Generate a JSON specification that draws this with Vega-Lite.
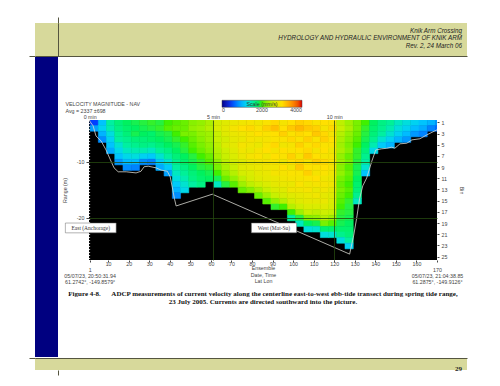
{"$schema":"https://vega.github.io/schema/vega-lite/v6.json","background":"white","padding":{"left":28,"top":16,"right":34,"bottom":16},"bounds":"full","spacing":0,"vconcat":[
{"width":432,"height":33,"view":{"fill":"#d7d99b","stroke":null},"data":{"values":[{"a":0}]},"title":{"text":["Knik Arm Crossing","HYDROLOGY AND HYDRAULIC ENVIRONMENT OF KNIK ARM","Rev. 2, 24 March 06"],"orient":"bottom","anchor":"end","frame":"group","align":"right","offset":-29,"dx":-5,"font":"Liberation Sans","fontStyle":"italic","fontWeight":"normal","fontSize":6.3,"lineHeight":7.5,"color":"#222222"},"mark":{"type":"point","opacity":0,"size":1},"encoding":{"x":{"field":"a","type":"quantitative","scale":{"domain":[0,432]},"axis":{"orient":"top","values":[23],"grid":true,"gridColor":"#55553f","tickColor":"#55553f","tickSize":6,"labels":false,"domain":false,"title":null}},"y":{"field":"a","type":"quantitative","scale":{"domain":[0,33]},"axis":{"orient":"left","values":[0],"grid":true,"gridColor":"#55553f","tickColor":"#55553f","tickSize":6,"labels":false,"domain":false,"title":null}}}},
{"bounds":"flush","spacing":31,"hconcat":[
{"width":23,"height":300,"view":{"fill":"#000080","stroke":null},"data":{"values":[{"a":0}]},"mark":{"type":"point","opacity":0,"size":1},"encoding":{}},
{"bounds":"flush","spacing":0,"vconcat":[
{"width":348,"height":63,"view":{"stroke":null},"data":{"values":[{"a":0}]},"mark":{"type":"point","opacity":0,"size":1},"encoding":{}},
{"width":348,"height":140,"view":{"fill":"#000000","stroke":null},
"title":{"text":["Figure 4-8.\u00a0\u00a0\u00a0\u00a0\u00a0\u00a0ADCP measurements of current velocity along the centerline east-to-west ebb-tide transect during spring tide range,","23 July 2005. Currents are directed southward into the picture."],"orient":"bottom","anchor":"middle","frame":"group","offset":5,"font":"Liberation Serif","fontWeight":"bold","fontSize":7,"lineHeight":8,"color":"#111111"},
"resolve":{"scale":{"x":"independent","y":"independent"},"axis":{"x":"independent","y":"independent"}},
"layer":[
{"data":{"values":[
{"e":1,"b":1,"v":500},{"e":1,"b":2,"v":900},
{"e":5,"b":1,"v":1100},{"e":5,"b":2,"v":1200},{"e":5,"b":3,"v":1000},{"e":5,"b":4,"v":800},
{"e":9,"b":1,"v":1500},{"e":9,"b":2,"v":1450},{"e":9,"b":3,"v":1300},{"e":9,"b":4,"v":1200},{"e":9,"b":5,"v":1100},{"e":9,"b":6,"v":950},
{"e":13,"b":1,"v":1700},{"e":13,"b":2,"v":1650},{"e":13,"b":3,"v":1550},{"e":13,"b":4,"v":1500},{"e":13,"b":5,"v":1350},{"e":13,"b":6,"v":1250},{"e":13,"b":7,"v":1100},{"e":13,"b":8,"v":850},
{"e":17,"b":1,"v":1800},{"e":17,"b":2,"v":1750},{"e":17,"b":3,"v":1700},{"e":17,"b":4,"v":1600},{"e":17,"b":5,"v":1500},{"e":17,"b":6,"v":1400},{"e":17,"b":7,"v":1250},{"e":17,"b":8,"v":1050},{"e":17,"b":9,"v":800},
{"e":21,"b":1,"v":1850},{"e":21,"b":2,"v":1800},{"e":21,"b":3,"v":1850},{"e":21,"b":4,"v":1700},{"e":21,"b":5,"v":1600},{"e":21,"b":6,"v":1450},{"e":21,"b":7,"v":1300},{"e":21,"b":8,"v":1050},{"e":21,"b":9,"v":750},
{"e":25,"b":1,"v":1900},{"e":25,"b":2,"v":1850},{"e":25,"b":3,"v":1800},{"e":25,"b":4,"v":1700},{"e":25,"b":5,"v":1650},{"e":25,"b":6,"v":1450},{"e":25,"b":7,"v":1200},{"e":25,"b":8,"v":800},
{"e":29,"b":1,"v":1950},{"e":29,"b":2,"v":1900},{"e":29,"b":3,"v":1750},{"e":29,"b":4,"v":1750},{"e":29,"b":5,"v":1600},{"e":29,"b":6,"v":1400},{"e":29,"b":7,"v":1150},{"e":29,"b":8,"v":750},
{"e":33,"b":1,"v":1900},{"e":33,"b":2,"v":1950},{"e":33,"b":3,"v":1850},{"e":33,"b":4,"v":1800},{"e":33,"b":5,"v":1700},{"e":33,"b":6,"v":1550},{"e":33,"b":7,"v":1350},{"e":33,"b":8,"v":1150},{"e":33,"b":9,"v":950},
{"e":37,"b":1,"v":2000},{"e":37,"b":2,"v":2050},{"e":37,"b":3,"v":1900},{"e":37,"b":4,"v":1850},{"e":37,"b":5,"v":1800},{"e":37,"b":6,"v":1650},{"e":37,"b":7,"v":1500},{"e":37,"b":8,"v":1350},{"e":37,"b":9,"v":1150},{"e":37,"b":10,"v":900},
{"e":41,"b":1,"v":2050},{"e":41,"b":2,"v":2100},{"e":41,"b":3,"v":2000},{"e":41,"b":4,"v":1950},{"e":41,"b":5,"v":1850},{"e":41,"b":6,"v":1800},{"e":41,"b":7,"v":1700},{"e":41,"b":8,"v":1600},{"e":41,"b":9,"v":1500},{"e":41,"b":10,"v":1400},{"e":41,"b":11,"v":1300},{"e":41,"b":12,"v":1150},{"e":41,"b":13,"v":1000},{"e":41,"b":14,"v":800},
{"e":45,"b":1,"v":2100},{"e":45,"b":2,"v":2100},{"e":45,"b":3,"v":2150},{"e":45,"b":4,"v":2000},{"e":45,"b":5,"v":1950},{"e":45,"b":6,"v":1900},{"e":45,"b":7,"v":1800},{"e":45,"b":8,"v":1750},{"e":45,"b":9,"v":1650},{"e":45,"b":10,"v":1550},{"e":45,"b":11,"v":1450},{"e":45,"b":12,"v":1350},{"e":45,"b":13,"v":1250},
{"e":49,"b":1,"v":2200},{"e":49,"b":2,"v":2250},{"e":49,"b":3,"v":2150},{"e":49,"b":4,"v":2100},{"e":49,"b":5,"v":2050},{"e":49,"b":6,"v":2000},{"e":49,"b":7,"v":1900},{"e":49,"b":8,"v":1850},{"e":49,"b":9,"v":1800},{"e":49,"b":10,"v":1700},{"e":49,"b":11,"v":1650},{"e":49,"b":12,"v":1500},
{"e":53,"b":1,"v":2250},{"e":53,"b":2,"v":2300},{"e":53,"b":3,"v":2250},{"e":53,"b":4,"v":2200},{"e":53,"b":5,"v":2150},{"e":53,"b":6,"v":2100},{"e":53,"b":7,"v":2000},{"e":53,"b":8,"v":1950},{"e":53,"b":9,"v":1900},{"e":53,"b":10,"v":1800},{"e":53,"b":11,"v":1750},{"e":53,"b":12,"v":1650},
{"e":57,"b":1,"v":2350},{"e":57,"b":2,"v":2400},{"e":57,"b":3,"v":2300},{"e":57,"b":4,"v":2300},{"e":57,"b":5,"v":2250},{"e":57,"b":6,"v":2200},{"e":57,"b":7,"v":2100},{"e":57,"b":8,"v":2050},{"e":57,"b":9,"v":1950},{"e":57,"b":10,"v":1850},{"e":57,"b":11,"v":1800},
{"e":61,"b":1,"v":2600},{"e":61,"b":2,"v":2650},{"e":61,"b":3,"v":2500},{"e":61,"b":4,"v":2500},{"e":61,"b":5,"v":2450},{"e":61,"b":6,"v":2400},{"e":61,"b":7,"v":2350},{"e":61,"b":8,"v":2250},{"e":61,"b":9,"v":2150},{"e":61,"b":10,"v":2000},{"e":61,"b":11,"v":1850},{"e":61,"b":12,"v":1400},
{"e":65,"b":1,"v":2700},{"e":65,"b":2,"v":2750},{"e":65,"b":3,"v":2700},{"e":65,"b":4,"v":2600},{"e":65,"b":5,"v":2650},{"e":65,"b":6,"v":2550},{"e":65,"b":7,"v":2500},{"e":65,"b":8,"v":2450},{"e":65,"b":9,"v":2350},{"e":65,"b":10,"v":2250},{"e":65,"b":11,"v":2100},{"e":65,"b":12,"v":1900},
{"e":69,"b":1,"v":2800},{"e":69,"b":2,"v":2900},{"e":69,"b":3,"v":2800},{"e":69,"b":4,"v":2750},{"e":69,"b":5,"v":2750},{"e":69,"b":6,"v":2700},{"e":69,"b":7,"v":2650},{"e":69,"b":8,"v":2600},{"e":69,"b":9,"v":2500},{"e":69,"b":10,"v":2400},{"e":69,"b":11,"v":2250},{"e":69,"b":12,"v":2050},
{"e":73,"b":1,"v":2850},{"e":73,"b":2,"v":3000},{"e":73,"b":3,"v":2850},{"e":73,"b":4,"v":2800},{"e":73,"b":5,"v":2900},{"e":73,"b":6,"v":2850},{"e":73,"b":7,"v":2800},{"e":73,"b":8,"v":2700},{"e":73,"b":9,"v":2700},{"e":73,"b":10,"v":2600},{"e":73,"b":11,"v":2450},{"e":73,"b":12,"v":2300},{"e":73,"b":13,"v":2100},
{"e":77,"b":1,"v":2900},{"e":77,"b":2,"v":3050},{"e":77,"b":3,"v":2900},{"e":77,"b":4,"v":2900},{"e":77,"b":5,"v":2850},{"e":77,"b":6,"v":2800},{"e":77,"b":7,"v":2900},{"e":77,"b":8,"v":2800},{"e":77,"b":9,"v":2750},{"e":77,"b":10,"v":2650},{"e":77,"b":11,"v":2600},{"e":77,"b":12,"v":2450},{"e":77,"b":13,"v":2200},
{"e":81,"b":1,"v":2850},{"e":81,"b":2,"v":2950},{"e":81,"b":3,"v":3000},{"e":81,"b":4,"v":2850},{"e":81,"b":5,"v":2800},{"e":81,"b":6,"v":2900},{"e":81,"b":7,"v":2950},{"e":81,"b":8,"v":2850},{"e":81,"b":9,"v":2800},{"e":81,"b":10,"v":2750},{"e":81,"b":11,"v":2700},{"e":81,"b":12,"v":2550},{"e":81,"b":13,"v":2350},{"e":81,"b":14,"v":2100},
{"e":85,"b":1,"v":2950},{"e":85,"b":2,"v":3100},{"e":85,"b":3,"v":2950},{"e":85,"b":4,"v":2900},{"e":85,"b":5,"v":2950},{"e":85,"b":6,"v":3000},{"e":85,"b":7,"v":2850},{"e":85,"b":8,"v":2900},{"e":85,"b":9,"v":2850},{"e":85,"b":10,"v":2800},{"e":85,"b":11,"v":2750},{"e":85,"b":12,"v":2650},{"e":85,"b":13,"v":2500},{"e":85,"b":14,"v":2300},{"e":85,"b":15,"v":2050},
{"e":89,"b":1,"v":3050},{"e":89,"b":2,"v":3200},{"e":89,"b":3,"v":3000},{"e":89,"b":4,"v":2950},{"e":89,"b":5,"v":3050},{"e":89,"b":6,"v":2900},{"e":89,"b":7,"v":3000},{"e":89,"b":8,"v":2950},{"e":89,"b":9,"v":2850},{"e":89,"b":10,"v":2900},{"e":89,"b":11,"v":2800},{"e":89,"b":12,"v":2750},{"e":89,"b":13,"v":2650},{"e":89,"b":14,"v":2500},{"e":89,"b":15,"v":2250},{"e":89,"b":16,"v":1950},
{"e":93,"b":1,"v":2900},{"e":93,"b":2,"v":3000},{"e":93,"b":3,"v":3100},{"e":93,"b":4,"v":2950},{"e":93,"b":5,"v":2850},{"e":93,"b":6,"v":3000},{"e":93,"b":7,"v":2950},{"e":93,"b":8,"v":2850},{"e":93,"b":9,"v":3000},{"e":93,"b":10,"v":2900},{"e":93,"b":11,"v":2850},{"e":93,"b":12,"v":2800},{"e":93,"b":13,"v":2700},{"e":93,"b":14,"v":2600},{"e":93,"b":15,"v":2400},{"e":93,"b":16,"v":2000},
{"e":97,"b":1,"v":3000},{"e":97,"b":2,"v":3150},{"e":97,"b":3,"v":2950},{"e":97,"b":4,"v":3050},{"e":97,"b":5,"v":2900},{"e":97,"b":6,"v":2950},{"e":97,"b":7,"v":3100},{"e":97,"b":8,"v":3000},{"e":97,"b":9,"v":2850},{"e":97,"b":10,"v":2950},{"e":97,"b":11,"v":2900},{"e":97,"b":12,"v":2800},{"e":97,"b":13,"v":2850},{"e":97,"b":14,"v":2700},{"e":97,"b":15,"v":2600},{"e":97,"b":16,"v":2400},{"e":97,"b":17,"v":2000},{"e":97,"b":18,"v":1500},
{"e":101,"b":1,"v":3100},{"e":101,"b":2,"v":3250},{"e":101,"b":3,"v":3050},{"e":101,"b":4,"v":2950},{"e":101,"b":5,"v":3100},{"e":101,"b":6,"v":3000},{"e":101,"b":7,"v":2900},{"e":101,"b":8,"v":3050},{"e":101,"b":9,"v":3150},{"e":101,"b":10,"v":2950},{"e":101,"b":11,"v":2900},{"e":101,"b":12,"v":2950},{"e":101,"b":13,"v":2850},{"e":101,"b":14,"v":2750},{"e":101,"b":15,"v":2700},{"e":101,"b":16,"v":2550},{"e":101,"b":17,"v":2300},{"e":101,"b":18,"v":1900},{"e":101,"b":19,"v":1400},
{"e":105,"b":1,"v":3050},{"e":105,"b":2,"v":3150},{"e":105,"b":3,"v":3000},{"e":105,"b":4,"v":3100},{"e":105,"b":5,"v":2950},{"e":105,"b":6,"v":3050},{"e":105,"b":7,"v":3150},{"e":105,"b":8,"v":2950},{"e":105,"b":9,"v":3000},{"e":105,"b":10,"v":3100},{"e":105,"b":11,"v":2950},{"e":105,"b":12,"v":2850},{"e":105,"b":13,"v":2900},{"e":105,"b":14,"v":2800},{"e":105,"b":15,"v":2750},{"e":105,"b":16,"v":2650},{"e":105,"b":17,"v":2500},{"e":105,"b":18,"v":2200},{"e":105,"b":19,"v":1800},{"e":105,"b":20,"v":1300},
{"e":109,"b":1,"v":2950},{"e":109,"b":2,"v":3100},{"e":109,"b":3,"v":3150},{"e":109,"b":4,"v":2950},{"e":109,"b":5,"v":3050},{"e":109,"b":6,"v":2900},{"e":109,"b":7,"v":3000},{"e":109,"b":8,"v":3100},{"e":109,"b":9,"v":2950},{"e":109,"b":10,"v":2900},{"e":109,"b":11,"v":3000},{"e":109,"b":12,"v":2900},{"e":109,"b":13,"v":2800},{"e":109,"b":14,"v":2850},{"e":109,"b":15,"v":2750},{"e":109,"b":16,"v":2650},{"e":109,"b":17,"v":2450},{"e":109,"b":18,"v":2250},{"e":109,"b":19,"v":1850},{"e":109,"b":20,"v":1350},
{"e":113,"b":1,"v":3000},{"e":113,"b":2,"v":2900},{"e":113,"b":3,"v":3050},{"e":113,"b":4,"v":3100},{"e":113,"b":5,"v":2950},{"e":113,"b":6,"v":3000},{"e":113,"b":7,"v":2900},{"e":113,"b":8,"v":3050},{"e":113,"b":9,"v":3000},{"e":113,"b":10,"v":2950},{"e":113,"b":11,"v":2850},{"e":113,"b":12,"v":2900},{"e":113,"b":13,"v":2850},{"e":113,"b":14,"v":2750},{"e":113,"b":15,"v":2800},{"e":113,"b":16,"v":2700},{"e":113,"b":17,"v":2550},{"e":113,"b":18,"v":2400},{"e":113,"b":19,"v":2150},{"e":113,"b":20,"v":1750},{"e":113,"b":21,"v":1300},
{"e":117,"b":1,"v":2950},{"e":117,"b":2,"v":3050},{"e":117,"b":3,"v":2900},{"e":117,"b":4,"v":3000},{"e":117,"b":5,"v":2950},{"e":117,"b":6,"v":2850},{"e":117,"b":7,"v":2900},{"e":117,"b":8,"v":2950},{"e":117,"b":9,"v":2900},{"e":117,"b":10,"v":2850},{"e":117,"b":11,"v":2800},{"e":117,"b":12,"v":2850},{"e":117,"b":13,"v":2750},{"e":117,"b":14,"v":2700},{"e":117,"b":15,"v":2650},{"e":117,"b":16,"v":2600},{"e":117,"b":17,"v":2500},{"e":117,"b":18,"v":2300},{"e":117,"b":19,"v":2050},{"e":117,"b":20,"v":1750},{"e":117,"b":21,"v":1350},
{"e":121,"b":1,"v":2450},{"e":121,"b":2,"v":2500},{"e":121,"b":3,"v":2400},{"e":121,"b":4,"v":2350},{"e":121,"b":5,"v":2300},{"e":121,"b":6,"v":2350},{"e":121,"b":7,"v":2250},{"e":121,"b":8,"v":2300},{"e":121,"b":9,"v":2200},{"e":121,"b":10,"v":2250},{"e":121,"b":11,"v":2150},{"e":121,"b":12,"v":2100},{"e":121,"b":13,"v":2150},{"e":121,"b":14,"v":2100},{"e":121,"b":15,"v":2050},{"e":121,"b":16,"v":2000},{"e":121,"b":17,"v":1950},{"e":121,"b":18,"v":1900},{"e":121,"b":19,"v":1850},{"e":121,"b":20,"v":1750},{"e":121,"b":21,"v":1600},{"e":121,"b":22,"v":1300},
{"e":125,"b":1,"v":2300},{"e":125,"b":2,"v":2350},{"e":125,"b":3,"v":2250},{"e":125,"b":4,"v":2200},{"e":125,"b":5,"v":2150},{"e":125,"b":6,"v":2200},{"e":125,"b":7,"v":2100},{"e":125,"b":8,"v":2150},{"e":125,"b":9,"v":2050},{"e":125,"b":10,"v":2100},{"e":125,"b":11,"v":2050},{"e":125,"b":12,"v":2000},{"e":125,"b":13,"v":2050},{"e":125,"b":14,"v":2000},{"e":125,"b":15,"v":1950},{"e":125,"b":16,"v":1900},{"e":125,"b":17,"v":1900},{"e":125,"b":18,"v":1850},{"e":125,"b":19,"v":1800},{"e":125,"b":20,"v":1750},{"e":125,"b":21,"v":1700},{"e":125,"b":22,"v":1500},{"e":125,"b":23,"v":1200},
{"e":129,"b":1,"v":2150},{"e":129,"b":2,"v":2150},{"e":129,"b":3,"v":2100},{"e":129,"b":4,"v":2050},{"e":129,"b":5,"v":2000},{"e":129,"b":6,"v":1950},{"e":129,"b":7,"v":1950},{"e":129,"b":8,"v":1900},{"e":129,"b":9,"v":1850},{"e":129,"b":10,"v":1850},{"e":129,"b":11,"v":1800},{"e":129,"b":12,"v":1750},{"e":129,"b":13,"v":1700},{"e":129,"b":14,"v":1600},{"e":129,"b":15,"v":1400},
{"e":133,"b":1,"v":2000},{"e":133,"b":2,"v":1950},{"e":133,"b":3,"v":1900},{"e":133,"b":4,"v":1850},{"e":133,"b":5,"v":1800},{"e":133,"b":6,"v":1700},{"e":133,"b":7,"v":1600},{"e":133,"b":8,"v":1500},{"e":133,"b":9,"v":1350},{"e":133,"b":10,"v":1100},
{"e":137,"b":1,"v":1800},{"e":137,"b":2,"v":1750},{"e":137,"b":3,"v":1700},{"e":137,"b":4,"v":1600},{"e":137,"b":5,"v":1450},{"e":137,"b":6,"v":1250},
{"e":141,"b":1,"v":1650},{"e":141,"b":2,"v":1600},{"e":141,"b":3,"v":1500},{"e":141,"b":4,"v":1350},{"e":141,"b":5,"v":1150},
{"e":145,"b":1,"v":1550},{"e":145,"b":2,"v":1450},{"e":145,"b":3,"v":1350},{"e":145,"b":4,"v":1200},{"e":145,"b":5,"v":1000},
{"e":149,"b":1,"v":1400},{"e":149,"b":2,"v":1300},{"e":149,"b":3,"v":1200},{"e":149,"b":4,"v":1000},
{"e":153,"b":1,"v":1300},{"e":153,"b":2,"v":1200},{"e":153,"b":3,"v":1050},{"e":153,"b":4,"v":850},
{"e":157,"b":1,"v":1200},{"e":157,"b":2,"v":1050},{"e":157,"b":3,"v":850},
{"e":161,"b":1,"v":1100},{"e":161,"b":2,"v":950},{"e":161,"b":3,"v":750},
{"e":165,"b":1,"v":1000},{"e":165,"b":2,"v":750},
{"e":169,"b":1,"v":850},{"e":169,"b":2,"v":650}
]},"mark":{"type":"rect","clip":true,"strokeWidth":0.6},"encoding":{
"x":{"field":"e","type":"quantitative","bin":{"step":4,"extent":[1,173],"nice":false},"scale":{"domain":[0.7,170],"nice":false,"zero":false},"axis":{"orient":"bottom","values":[1,10,20,30,40,50,60,70,80,90,100,110,120,130,140,150,160,170],"format":"d","labelExpr":"datum.value==1?['','1','05/07/23, 20:50:31.94','61.2742°, -149.8579°']:datum.value==170?['','170','05/07/23, 21:04:38.85','61.2875°, -149.9126°']:datum.label","labelOverlap":false,"labelBound":false,"labelFlush":false,"labelFont":"Liberation Sans","labelFontSize":5.3,"labelColor":"#444444","labelLineHeight":6.2,"labelPadding":-1,"tickSize":2,"tickColor":"#444444","domain":false,"grid":false,"title":["Ensemble","Date, Time","Lat Lon"],"titleFont":"Liberation Sans","titleFontSize":5.3,"titleFontWeight":"normal","titleColor":"#444444","titleLineHeight":6.5,"titleY":5.5}},
"y":{"field":"b","type":"ordinal","scale":{"domain":[1,2,3,4,5,6,7,8,9,10,11,12,13,14,15,16,17,18,19,20,21,22,23,24,25],"paddingInner":0,"paddingOuter":0},"axis":{"orient":"right","values":[1,3,5,7,9,11,13,15,17,19,21,23,25],"labelAngle":0,"labelFont":"Liberation Sans","labelFontSize":5.3,"labelColor":"#444444","tickSize":2,"tickColor":"#444444","domain":false,"grid":false,"title":"Bin","titleFont":"Liberation Sans","titleFontSize":5.3,"titleFontWeight":"normal","titleColor":"#444444","titleAngle":90,"titlePadding":12}},
"stroke":{"field":"v","type":"quantitative","scale":{"domain":[0,4000.001],"range":["#00008c","#0040ff","#00b4ff","#00f0a0","#40f000","#c8f000","#ffe000","#ff9000","#e00000"]},"legend":null},
"color":{"field":"v","type":"quantitative","scale":{"domain":[0,4000],"range":["#00008c","#0040ff","#00b4ff","#00f0a0","#40f000","#c8f000","#ffe000","#ff9000","#e00000"]},"legend":{"type":"gradient","orient":"none","legendX":187,"legendY":79,"direction":"horizontal","gradientLength":80,"gradientThickness":7,"gradientStrokeColor":"#444444","gradientStrokeWidth":0.5,"values":[0,2000,4000],"format":"d","labelFont":"Liberation Sans","labelFontSize":5.3,"labelColor":"#444444","labelOffset":1,"title":"Scale (mm/s)","titleFont":"Liberation Sans","titleFontSize":5.3,"titleFontWeight":"normal","titleColor":"#333333","titleOrient":"top","titleAnchor":"middle","titlePadding":-7}}
}},
{"data":{"values":[{"ens":1}]},"mark":{"type":"rule","color":"#e8e8e8","strokeDash":[1,2],"strokeWidth":1},"encoding":{"x":{"field":"ens","type":"quantitative","scale":{"domain":[0.7,170],"nice":false,"zero":false},"axis":null}}},
{"data":{"values":[
{"ens":1,"range":-2.73},{"ens":2.7,"range":-3.6},{"ens":4.1,"range":-5.4},{"ens":6.6,"range":-6.3},{"ens":9,"range":-7.9},{"ens":11.4,"range":-9.9},{"ens":12.9,"range":-11.1},{"ens":14.9,"range":-11.8},{"ens":18.8,"range":-11.8},{"ens":23.6,"range":-12},{"ens":26,"range":-11.7},{"ens":27.5,"range":-10.9},{"ens":29.5,"range":-10.8},{"ens":33.4,"range":-11.1},{"ens":35.8,"range":-11.5},{"ens":38.8,"range":-11.7},{"ens":40.2,"range":-12.7},{"ens":41.2,"range":-14.5},{"ens":42.2,"range":-16.5},{"ens":43.1,"range":-17.9},{"ens":60.7,"range":-15.8},{"ens":127.5,"range":-26.5},{"ens":129.5,"range":-23.1},{"ens":130.9,"range":-20.1},{"ens":132.4,"range":-16.5},{"ens":133.9,"range":-14.3},{"ens":135.8,"range":-12.9},{"ens":138.3,"range":-9.9},{"ens":140.2,"range":-7.9},{"ens":143.1,"range":-7.7},{"ens":145.6,"range":-7.6},{"ens":148,"range":-7.4},{"ens":149.5,"range":-7.6},{"ens":152,"range":-6.8},{"ens":155.3,"range":-6.7},{"ens":157.8,"range":-6.1},{"ens":161.7,"range":-5.9},{"ens":165.1,"range":-5.2},{"ens":170,"range":-4.3}
]},"mark":{"type":"line","color":"#d8d8d0","strokeWidth":0.8},"encoding":{
"x":{"field":"ens","type":"quantitative","scale":{"domain":[0.7,170],"nice":false,"zero":false},"axis":{"orient":"top","values":[1,61,120],"labelExpr":"datum.value==1?'0 min':datum.value==61?'5 min':'10 min'","labelFont":"Liberation Sans","labelFontSize":5.3,"labelColor":"#444444","labelPadding":1,"labelFlush":false,"labelBound":false,"tickSize":0,"domain":false,"grid":true,"gridColor":"#24480f","gridWidth":0.8,"gridOpacity":{"condition":{"test":"datum.value==1","value":0},"value":1},"zindex":1,"title":["VELOCITY MAGNITUDE - NAV","Avg = 2337 ±698"],"titleFont":"Liberation Sans","titleFontSize":5.3,"titleFontWeight":"normal","titleColor":"#444444","titleLineHeight":7,"titleAnchor":"start","titleAlign":"left","titleX":-24,"titleY":-14}},
"y":{"field":"range","type":"quantitative","scale":{"domain":[-27.55,-2.55],"nice":false,"zero":false},"axis":{"orient":"left","values":[-10,-20],"labelExpr":"datum.value==-10?'-10':'-20'","labelFont":"Liberation Sans","labelFontSize":5.3,"labelColor":"#444444","tickSize":3,"tickColor":"#444444","domain":false,"grid":true,"gridColor":"#24480f","gridWidth":0.8,"zindex":1,"title":"Range (m)","titleFont":"Liberation Sans","titleFontSize":5.3,"titleFontWeight":"normal","titleColor":"#444444","titlePadding":9}}
}},
{"data":{"values":[{"from":-10.8,"to":13.9,"low":-20.95,"high":-22.7,"label":"East (Anchorage)","mid":1.55,"midRange":-21.85},{"from":79.7,"to":101.7,"low":-20.95,"high":-22.7,"label":"West (Mat-Su)","mid":90.7,"midRange":-21.85}]},
"layer":[
{"mark":{"type":"rect","fill":"#ffffff","stroke":"#666666","strokeWidth":0.5},"encoding":{"x":{"field":"from","type":"quantitative","scale":{"domain":[0.7,170],"nice":false,"zero":false},"axis":null},"x2":{"field":"to"},"y":{"field":"low","type":"quantitative","scale":{"domain":[-27.55,-2.55],"nice":false,"zero":false},"axis":null},"y2":{"field":"high"}}},
{"mark":{"type":"text","font":"Liberation Serif","fontSize":5.5,"color":"#333333"},"encoding":{"x":{"field":"mid","type":"quantitative","scale":{"domain":[0.7,170],"nice":false,"zero":false},"axis":null},"y":{"field":"midRange","type":"quantitative","scale":{"domain":[-27.55,-2.55],"nice":false,"zero":false},"axis":null},"text":{"field":"label"}}}
]}
]}
]}
]},
{"width":432,"height":12,"view":{"fill":"#d7d99b","stroke":null},"data":{"values":[{"a":0}]},"title":{"text":"29","orient":"bottom","anchor":"end","frame":"group","align":"right","offset":-11,"dx":-5,"font":"Liberation Serif","fontWeight":"bold","fontSize":7,"color":"#222222"},"mark":{"type":"point","opacity":0,"size":1},"encoding":{"x":{"field":"a","type":"quantitative","scale":{"domain":[0,432]},"axis":{"orient":"bottom","values":[23],"grid":false,"tickColor":"#55553f","tickSize":5,"labels":false,"domain":false,"title":null}},"y":{"field":"a","type":"quantitative","scale":{"domain":[0,12]},"axis":{"orient":"left","values":[12],"grid":true,"gridColor":"#55553f","tickColor":"#55553f","tickSize":6,"labels":false,"domain":false,"title":null}}}}
]}
